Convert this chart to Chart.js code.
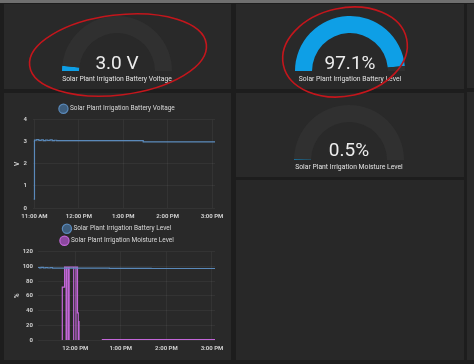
<!DOCTYPE html>
<html>
<head>
<meta charset="utf-8">
<script src="https://cdn.jsdelivr.net/npm/chart.js@4.4.1/dist/chart.umd.min.js"></script>
<style>
html, body { margin: 0; padding: 0; }
body { width: 474px; height: 364px; background: #1d1d1d; position: relative; overflow: hidden; font-family: Roboto, "Noto Sans", sans-serif; }
.topbar { position: absolute; left: 0; top: 0; width: 474px; height: 3px; background: #6f6f6f; }
.card { position: absolute; background: #292929; }
.val { position: absolute; width: 200px; text-align: center; color: #ededed; font-size: 19px; line-height: 19px; }
.lbl { position: absolute; width: 200px; text-align: center; color: #e2e2e2; font-size: 6.8px; line-height: 8px; white-space: nowrap; }
canvas { position: absolute; }
svg { position: absolute; left: 0; top: 0; }
</style>
</head>
<body>
<div class="topbar"></div>
<div class="card" style="left:4px;top:4px;width:227px;height:85px"></div>
<div class="card" style="left:236px;top:4px;width:228px;height:85px"></div>
<div class="card" style="left:467px;top:4px;width:7px;height:84px"></div>
<div class="card" style="left:467px;top:92px;width:7px;height:268px"></div>
<div class="card" style="left:236px;top:93px;width:228px;height:84px"></div>
<div class="card" style="left:236px;top:180px;width:228px;height:180px;background:#282828"></div>
<div class="card" style="left:4px;top:93px;width:227px;height:267px"></div>

<canvas id="g0" width="110" height="55" style="left:62px;top:16px"></canvas>
<canvas id="g1" width="110" height="55" style="left:295px;top:16px"></canvas>
<canvas id="g2" width="110" height="55" style="left:294px;top:105px"></canvas>
<div class="val" id="v0" style="left:17px;top:53px"></div>
<div class="val" id="v1" style="left:250px;top:53px"></div>
<div class="val" id="v2" style="left:249px;top:140px"></div>
<div class="lbl" id="l0" style="left:17px;top:75px"></div>
<div class="lbl" id="l1" style="left:250px;top:75px"></div>
<div class="lbl" id="l2" style="left:249px;top:163px"></div>

<canvas id="c1" width="227" height="122" style="left:4px;top:100px"></canvas>
<canvas id="c2" width="227" height="134" style="left:4px;top:220px"></canvas>

<svg width="474" height="364">
  <ellipse cx="118" cy="55" rx="89" ry="40" transform="rotate(-7 118 55)" fill="none" stroke="#c4161c" stroke-width="1.6"/>
  <ellipse cx="345" cy="52" rx="63" ry="44" transform="rotate(-12 345 52)" fill="none" stroke="#c4161c" stroke-width="1.6"/>
</svg>

<script>
const gaugeNames = ['Solar Plant Irrigation Battery Voltage', 'Solar Plant Irrigation Battery Level', 'Solar Plant Irrigation Moisture Level'];
const gaugeValues = [3.0, 97.1, 0.5];
const gaugeUnits = ['V', '%', '%'];
const gaugeMax = 100;

// historique tension
const voltTimes = ['10:59', '11:00', '11:03', '11:06', '11:09', '11:12', '11:15', '11:18', '11:21', '11:24', '11:27', '11:30', '13:27', '15:04'];
const voltValues = [0.4, 3.08, 3.1, 3.06, 3.09, 3.05, 3.08, 3.06, 3.09, 3.05, 3.07, 3.05, 3.0, 3.0];

// historique batterie / humidite
const battTimes = ['11:11', '11:13', '11:15', '11:18', '11:21', '11:24', '11:27', '11:30', '12:45', '13:40', '15:04'];
const battValues = [98.6, 98.1, 98.7, 98.0, 98.5, 97.9, 98.3, 97.6, 97.4, 97.2, 97.1];
const moistTimes = ['11:43', '11:43', '11:46', '11:48', '11:49', '11:51', '11:52', '11:58', '11:58', '12:01', '12:01', '12:03', '12:04', '12:04', '12:05', '12:06', '12:35', '15:04'];
const moistValues = [0, 72, 99, 0, 99, 0, 99, 0, 99, 0, 99, 37, 0, 25, 0, null, 0.5, 0.5];

const hourLabels = ['11:00 AM', '12:00 PM', '1:00 PM', '2:00 PM', '3:00 PM'];
const voltTicks = [0, 1, 2, 3, 4];
const pctTicks = [0, 20, 40, 60, 80, 100, 120];

const blue = '#5a89ba';
const blueFill = 'rgba(70,112,155,0.75)';
const purple = '#c266d8';
const purpleFill = 'rgba(165,80,190,0.8)';
const gaugeBlue = '#0e9fe6';
const gaugeBg = '#303030';

function toMin(s) {
    const [h, m] = s.split(':').map(Number);
    return h * 60 + m;
}
function labelToMin(s) {
    const [hm, ap] = s.split(' ');
    let [h, m] = hm.split(':').map(Number);
    if (ap === 'PM' && h !== 12) h += 12;
    if (ap === 'AM' && h === 12) h = 0;
    return h * 60 + m;
}
function fmtTime(v) {
    const h = Math.floor(v / 60), m = v % 60;
    const h12 = ((h + 11) % 12) + 1;
    return h12 + ':' + String(m).padStart(2, '0') + ' ' + (h < 12 ? 'AM' : 'PM');
}
function points(times, values) {
    return times.map((t, i) => ({ x: toMin(t), y: values[i] }));
}

Chart.defaults.font.family = 'Roboto, "Noto Sans", sans-serif';
Chart.defaults.color = '#cfcfcf';

// jauges
gaugeValues.forEach((v, i) => {
    new Chart(document.getElementById('g' + i), {
        type: 'doughnut',
        data: {
            datasets: [{
                data: [v, gaugeMax - v],
                backgroundColor: [gaugeBlue, gaugeBg],
                borderWidth: 0
            }]
        },
        options: {
            responsive: false,
            animation: false,
            devicePixelRatio: 1,
            rotation: -90,
            circumference: 180,
            cutout: '69%',
            plugins: { legend: { display: false }, tooltip: { enabled: false } }
        }
    });
    document.getElementById('v' + i).textContent = v.toFixed(1) + (gaugeUnits[i] === '%' ? '%' : ' ' + gaugeUnits[i]);
    document.getElementById('l' + i).textContent = gaugeNames[i];
});

function lineOptions(xmin, xmax, ymax, yticks, ytitle, yWidth, tickPad) {
    return {
        responsive: false,
        animation: false,
        devicePixelRatio: 1,
        plugins: {
            tooltip: { enabled: false },
            legend: {
                labels: {
                    usePointStyle: true,
                    pointStyle: 'circle',
                    boxWidth: 7,
                    boxHeight: 7,
                    padding: 5.5,
                    color: '#dadada',
                    font: { size: 6.5 }
                }
            }
        },
        scales: {
            x: {
                type: 'linear',
                min: xmin,
                max: xmax,
                afterBuildTicks: s => {
                    s.ticks = hourLabels.map(labelToMin).filter(v => v >= xmin && v <= xmax).map(v => ({ value: v }));
                },
                afterFit: s => { s.height = 14; },
                ticks: { callback: v => fmtTime(v), maxRotation: 0, autoSkip: false, padding: 4.5, color: '#cfcfcf', font: { size: 6, weight: 'bold' } },
                grid: { color: 'rgba(255,255,255,0.05)', drawTicks: false },
                border: { display: false }
            },
            y: {
                min: 0,
                max: ymax,
                afterBuildTicks: s => { s.ticks = yticks.map(v => ({ value: v })); },
                afterFit: s => { s.width = yWidth; },
                ticks: { padding: tickPad, color: '#cfcfcf', font: { size: 6, weight: 'bold' } },
                title: { display: true, text: ytitle, color: '#cfcfcf', font: { size: 6.5, weight: 'bold' }, padding: { top: 9, bottom: 0 } },
                grid: { color: 'rgba(255,255,255,0.05)', drawTicks: false },
                border: { display: false }
            },
            // marge droite sans decaler la legende
            yr: {
                position: 'right',
                min: 0,
                max: ymax,
                afterFit: s => { s.width = 16; },
                ticks: { display: false },
                grid: { display: false, drawTicks: false },
                border: { display: false }
            }
        }
    };
}

function trimLegend(chart, px) {
    const fit = chart.legend.fit;
    chart.legend.fit = function () {
        fit.call(this);
        this.height -= px;
    };
    chart.update();
}

const c1 = new Chart(document.getElementById('c1'), {
    type: 'line',
    data: {
        datasets: [{
            label: 'Solar Plant Irrigation Battery Voltage',
            data: points(voltTimes, voltValues),
            borderColor: blue,
            backgroundColor: blueFill,
            borderWidth: 1.2,
            pointRadius: 0,
            stepped: true,
            fill: false
        }]
    },
    options: lineOptions(658, 904, 4, voltTicks, 'V', 29, 6)
});
trimLegend(c1, 2.25);

const c2 = new Chart(document.getElementById('c2'), {
    type: 'line',
    data: {
        datasets: [{
            label: 'Solar Plant Irrigation Battery Level',
            data: points(battTimes, battValues),
            borderColor: blue,
            backgroundColor: blueFill,
            borderWidth: 1.2,
            pointRadius: 0,
            stepped: true,
            fill: false
        }, {
            label: 'Solar Plant Irrigation Moisture Level',
            data: points(moistTimes, moistValues),
            borderColor: purple,
            backgroundColor: purpleFill,
            borderWidth: 1.2,
            pointRadius: 0,
            stepped: true,
            spanGaps: false,
            fill: false
        }]
    },
    options: lineOptions(671, 904, 120, pctTicks, '%', 34, 5)
});
trimLegend(c2, 2.25);
</script>
</body>
</html>
